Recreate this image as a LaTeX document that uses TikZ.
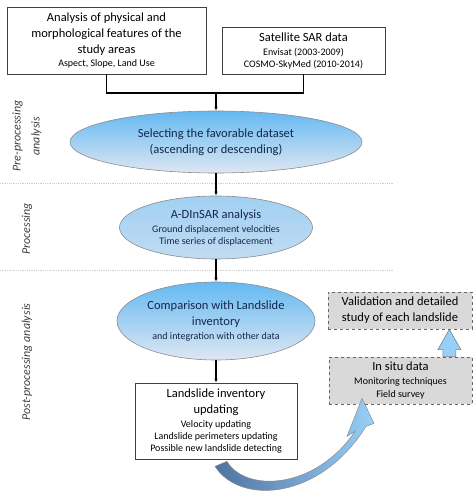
\documentclass[tikz,border=0pt]{standalone}
\usepackage{fontspec}
\setmainfont{Carlito}
\usetikzlibrary{shapes.geometric,arrows.meta,calc}

\newcommand{\subline}{\fontsize{10}{12}\selectfont}

\definecolor{navy}{RGB}{20,38,75}
\definecolor{skytop}{RGB}{100,185,242}
\definecolor{skybot}{RGB}{222,231,242}
\definecolor{skymid}{RGB}{172,212,242}
\definecolor{tailblue}{RGB}{80,115,160}
\definecolor{headblue}{RGB}{150,208,248}

\begin{document}
\begin{tikzpicture}[x=1pt,y=-1pt,
    box/.style={draw=black!75,line width=0.7pt,fill=white,align=center,inner sep=0pt,
        font=\fontsize{12.5}{16}\selectfont},
    oval/.style={ellipse,draw=black!45,line width=0.6pt,align=center,inner sep=0pt,
        text=navy,font=\fontsize{12.5}{16}\selectfont},
    dbox/.style={draw=black!60,dashed,line width=0.7pt,fill=black!15,align=center,inner sep=0pt,
        font=\fontsize{12.5}{16}\selectfont},
    link/.style={line width=1.2pt,black},
    flow/.style={line width=1.1pt,-{Latex[length=4pt,width=3.5pt]}},
    sep/.style={black!20,line width=0.8pt,densely dotted},
    phase/.style={rotate=90,align=center,text=black!75,font=\fontsize{12}{19}\selectfont\itshape}]
    \useasboundingbox (0,0) rectangle (474,494);
    %% input boxes
    \node[box,minimum width=199pt,minimum height=67pt] (phys) at (106.5,40.5)
        {Analysis of physical and\\morphological features of the\\study areas\\[-3pt]\subline Aspect, Slope, Land Use};
    \node[box,minimum width=163pt,minimum height=47pt] (sar) at (303.5,50.5)
        {Satellite SAR data\\[-2pt]\subline Envisat (2003-2009)\\[-4pt]\subline COSMO-SkyMed (2010-2014)};
    \coordinate (join) at (216,93);
    \draw[link] (phys.south) |- (join) -| (sar.south);
    %% phase separators
    \draw[sep] (0,183) -- (393,183);
    \draw[sep] (0,270) -- (393,270);
    \node[phase] (pre) at (27,136) {Pre-processing\\analysis};
    \node[phase] (proc) at (27,229) {Processing};
    \node[phase] (post) at (27,362) {Post-processing analysis};
    %% main chain
    \node[oval,minimum width=292pt,minimum height=62pt,top color=skytop,bottom color=skybot] (select) at (216,142)
        {Selecting the favorable dataset\\(ascending or descending)};
    \node[oval,minimum width=193pt,minimum height=63pt,top color=skymid!85!skytop,bottom color=skymid!60!skybot] (dinsar) at (216,227.5)
        {A-DInSAR analysis\\[-2pt]\subline Ground displacement velocities\\[-4pt]\subline Time series of displacement};
    \node[oval,minimum width=198pt,minimum height=78pt,top color=skytop,bottom color=skybot] (compare) at (216,321)
        {Comparison with Landslide\\inventory\\[-2pt]\subline and integration with other data};
    \node[box,minimum width=162pt,minimum height=76pt] (update) at (216,421)
        {Landslide inventory\\updating\\[-2pt]\subline Velocity updating\\[-4pt]\subline Landslide perimeters updating\\[-4pt]\subline Possible new landslide detecting};
    \draw[flow] (join) -- (select);
    \draw[flow] (select) -- (dinsar);
    \draw[flow] (dinsar) -- (compare);
    \draw[flow] (compare) -- (update);
    %% field work
    \node[dbox,minimum width=144pt,minimum height=37pt] (valid) at (400,310.5)
        {Validation and detailed\\study of each landslide};
    \node[dbox,minimum width=143pt,minimum height=47pt] (insitu) at (400.5,380.5)
        {In situ data\\[-2pt]\subline Monitoring techniques\\[-3pt]\subline Field survey};
    \coordinate (ua) at ($(insitu.north east)+(-23,0)$);
    \coordinate (ub) at ($(valid.south east)+(-23,0)$);
    \draw[black!50,line width=0.6pt,fill=headblue]
        ([xshift=-6.5pt]ua) -- ([xshift=-6.5pt,yshift=7pt]ua) -- ([xshift=-11.5pt,yshift=7pt]ua)
        -- (ub) -- ([xshift=11.5pt,yshift=7pt]ua) -- ([xshift=6.5pt,yshift=7pt]ua) -- ([xshift=6.5pt]ua) -- cycle;
    \coordinate (tail) at ($(update.south)+(-1,7)$);
    \begin{scope}[shift={(tail)}]
        \shade[left color=tailblue,right color=headblue,draw=black!45,line width=0.5pt]
            (0,0) .. controls (25,39) and (105,34) .. (151,-40) -- (159,-43) -- (147,-68)
            -- (132,-30) -- (140,-35) .. controls (100,24) and (30,26) .. (12,-5) -- cycle;
    \end{scope}
\end{tikzpicture}
\end{document}
